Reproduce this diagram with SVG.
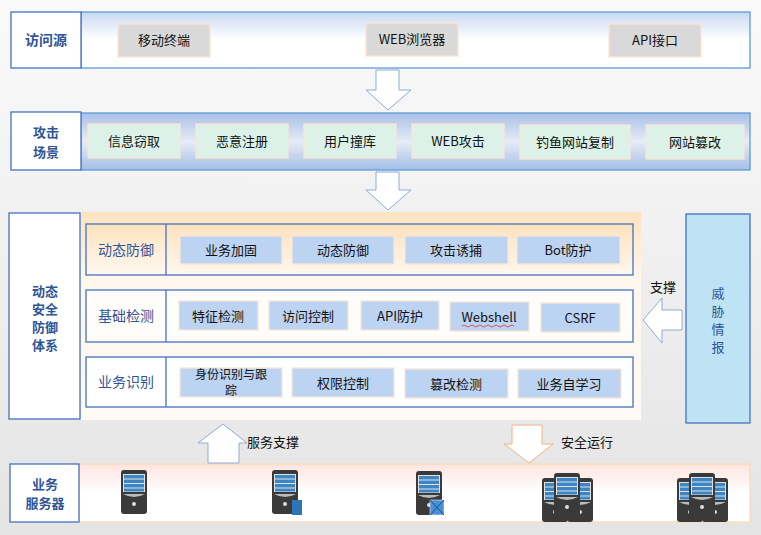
<svg xmlns="http://www.w3.org/2000/svg" width="761" height="535" viewBox="0 0 761 535">
<defs>
<linearGradient id="bg" x1="0" y1="0" x2="0" y2="1"><stop offset="0" stop-color="#fafafa"/><stop offset="1" stop-color="#e4e4e4"/></linearGradient>
<linearGradient id="g1" x1="0" y1="0" x2="0" y2="1"><stop offset="0" stop-color="#c9d9f2"/><stop offset="0.5" stop-color="#ffffff"/><stop offset="1" stop-color="#ffffff"/></linearGradient>
<linearGradient id="g2" x1="0" y1="0" x2="0" y2="1"><stop offset="0" stop-color="#a9c0e6"/><stop offset="0.5" stop-color="#e6ecf7"/><stop offset="1" stop-color="#a4bfe6"/></linearGradient>
<linearGradient id="gp" x1="0" y1="0" x2="0" y2="1"><stop offset="0" stop-color="#fde3c0"/><stop offset="0.3" stop-color="#fff6ec"/><stop offset="1" stop-color="#fffaf4"/></linearGradient>
<linearGradient id="gd" x1="0" y1="0" x2="0" y2="1"><stop offset="0" stop-color="#fde2bd"/><stop offset="1" stop-color="#fff8f0"/></linearGradient>
<linearGradient id="gs" x1="0" y1="0" x2="0" y2="1"><stop offset="0" stop-color="#fde4e0"/><stop offset="0.5" stop-color="#ffffff"/><stop offset="1" stop-color="#ffffff"/></linearGradient>
<g id="srv">
<rect x="-13" y="0" width="26" height="44" rx="3" fill="#3a3a3a"/>
<rect x="-11" y="4" width="22" height="18" fill="#e0e0e0"/>
<rect x="-10" y="5" width="20" height="3.5" fill="#3d86c6"/>
<rect x="-10" y="9.5" width="20" height="3.5" fill="#3d86c6"/>
<rect x="-10" y="14" width="20" height="3.5" fill="#3d86c6"/>
<rect x="-10" y="18.5" width="20" height="3" fill="#3d86c6"/>
<path d="M-11 24 Q0 30 11 24" fill="#bbb"/>
<circle cx="0" cy="34" r="2" fill="#ddd"/>
</g>
</defs>
<style>
.lbl{fill:#fff;stroke:#4472c4;stroke-width:1.3}
.lt{font-family:"Noto Sans CJK SC",sans-serif;font-weight:bold;font-size:13px;fill:#2f5597;text-anchor:middle}
.it{font-family:"Noto Sans CJK SC",sans-serif;font-size:13px;fill:#111;text-anchor:middle}
.sm{font-size:12px}
.gray{fill:#d9d9d9;stroke:#fbe5d6;stroke-width:1.3}
.mint{fill:#dcf2e8;stroke:#fbe5d6;stroke-width:1.3}
.blue{fill:#bdd3f2;stroke:#fbe5d6;stroke-width:1.3}
.row{stroke:#4472c4;stroke-width:1.3}
.rt{font-family:"Noto Sans CJK SC",sans-serif;font-size:14px;fill:#2f5597;text-anchor:middle}
.vt{font-family:"Noto Sans CJK SC",sans-serif;font-size:13px;fill:#2f5597;text-anchor:middle}
.arr{fill:#fff;stroke:#8eaadb;stroke-width:1}
</style>
<rect width="761" height="535" fill="url(#bg)"/>

<g id="access">
<rect x="81" y="12" width="669" height="56" fill="url(#g1)" stroke="#5b9bd5" stroke-width="1.3"/>
<rect class="lbl" x="11" y="12" width="70" height="56"/>
<text class="lt" x="46" y="45" style="font-size:14px">访问源</text>
<rect class="gray" x="118" y="24" width="92" height="33"/><text class="it" x="164" y="45">移动终端</text>
<rect class="gray" x="366" y="23" width="92" height="33"/><text class="it" x="412" y="44">WEB浏览器</text>
<rect class="gray" x="609" y="24" width="92" height="33"/><text class="it" x="655" y="45">API接口</text>
</g>

<g id="attack">
<rect x="81" y="113" width="669" height="57" fill="url(#g2)" stroke="#5b9bd5" stroke-width="1.3"/>
<rect class="lbl" x="11" y="112" width="70" height="58"/>
<text class="lt" x="46" y="137">攻击</text><text class="lt" x="46" y="157">场景</text>
<rect class="mint" x="88" y="124" width="92" height="34"/><text class="it" x="134" y="146">信息窃取</text>
<rect class="mint" x="196" y="124" width="92" height="34"/><text class="it" x="242" y="146">恶意注册</text>
<rect class="mint" x="304" y="124" width="92" height="34"/><text class="it" x="350" y="146">用户撞库</text>
<rect class="mint" x="412" y="124" width="92" height="34"/><text class="it" x="458" y="146">WEB攻击</text>
<rect class="mint" x="520" y="125" width="110" height="34"/><text class="it" x="575" y="147">钓鱼网站复制</text>
<rect class="mint" x="646" y="125" width="98" height="34"/><text class="it" x="695" y="147">网站篡改</text>
</g>

<g id="defense">
<rect class="lbl" x="9" y="213" width="71" height="206"/>
<text class="lt" x="45" y="296">动态</text><text class="lt" x="45" y="314">安全</text><text class="lt" x="45" y="332">防御</text><text class="lt" x="45" y="350">体系</text>
<rect x="81" y="212" width="560" height="208" fill="url(#gp)"/>
<rect class="row" x="86" y="224" width="547" height="51" fill="url(#gd)"/>
<line class="row" x1="166" y1="224" x2="166" y2="275"/>
<text class="rt" x="126" y="255">动态防御</text>
<rect class="blue" x="180" y="236" width="102" height="28"/><text class="it" x="231" y="255">业务加固</text>
<rect class="blue" x="292" y="236" width="102" height="28"/><text class="it" x="343" y="255">动态防御</text>
<rect class="blue" x="405" y="236" width="103" height="28"/><text class="it" x="456" y="255">攻击诱捕</text>
<rect class="blue" x="517" y="236" width="103" height="28"/><text class="it" x="568" y="255">Bot防护</text>

<rect class="row" x="86" y="290" width="547" height="52" fill="#fffdfa"/>
<line class="row" x1="166" y1="290" x2="166" y2="342"/>
<text class="rt" x="126" y="321">基础检测</text>
<rect class="blue" x="179" y="301" width="79" height="29"/><text class="it" x="218" y="321">特征检测</text>
<rect class="blue" x="269" y="301" width="79" height="29"/><text class="it" x="308" y="321">访问控制</text>
<rect class="blue" x="361" y="301" width="78" height="29"/><text class="it" x="400" y="321">API防护</text>
<rect class="blue" x="450" y="302" width="79" height="29"/><text class="it" x="489" y="322">Webshell</text>
<path d="M462 326 q2 -2 4 0 t4 0 t4 0 t4 0 t4 0 t4 0 t4 0 t4 0 t4 0 t4 0 t4 0 t4 0 t4 0" fill="none" stroke="#e03030" stroke-width="0.8"/>
<rect class="blue" x="541" y="303" width="79" height="29"/><text class="it" x="580" y="323">CSRF</text>

<rect class="row" x="86" y="357" width="547" height="50" fill="#fff"/>
<line class="row" x1="166" y1="357" x2="166" y2="407"/>
<text class="rt" x="126" y="387">业务识别</text>
<rect class="blue" x="180" y="368" width="102" height="29"/><text class="it sm" x="231" y="379">身份识别与跟</text><text class="it sm" x="231" y="395">踪</text>
<rect class="blue" x="292" y="368" width="102" height="29"/><text class="it" x="343" y="388">权限控制</text>
<rect class="blue" x="405" y="369" width="103" height="29"/><text class="it" x="456" y="389">篡改检测</text>
<rect class="blue" x="518" y="369" width="103" height="29"/><text class="it" x="569" y="389">业务自学习</text>
</g>

<g id="threat">
<rect x="686" y="214" width="64" height="209" fill="#bde3f5" stroke="#4472c4" stroke-width="1.3"/>
<text class="vt" x="718" y="298">威</text><text class="vt" x="718" y="316">胁</text><text class="vt" x="718" y="334">情</text><text class="vt" x="718" y="352">报</text>
</g>

<g id="servers">
<rect x="79" y="464" width="671" height="58" fill="url(#gs)" stroke="#fbdcb4" stroke-width="1.3"/>
<rect class="lbl" x="10" y="464" width="69" height="58"/>
<text class="lt" x="45" y="489">业务</text><text class="lt" x="45" y="508">服务器</text>
<use href="#srv" x="134" y="470"/>
<use href="#srv" x="285" y="470"/>
<rect x="292" y="500" width="10" height="15" fill="#2e75b6"/>
<use href="#srv" x="429" y="471"/>
<rect x="430" y="500" width="14" height="15" fill="#4a90d9" stroke="#fff" stroke-width="0.5"/>
<path d="M430 500 L444 515 M444 500 L430 515" stroke="#1f4e79" stroke-width="1"/>
<use href="#srv" x="555" y="478"/>
<use href="#srv" x="580" y="478"/>
<use href="#srv" x="567" y="473"/>
<use href="#srv" x="690" y="478"/>
<use href="#srv" x="715" y="478"/>
<use href="#srv" x="702" y="473"/>
</g>

<g id="connectors">
<path class="arr" d="M376 70 H399 V90 H411 L388 110 L366 90 H376 Z"/>
<path class="arr" d="M376 172 H399 V190 H411 L388 210 L366 190 H376 Z"/>
<path class="arr" d="M682 310 H662 V298 L643 320 L662 343 V330 H682 Z"/>
<text class="it" x="663" y="292">支撑</text>
<path class="arr" d="M208 463 V443 H198 L223 424 L247 443 H239 V463 Z"/>
<text class="it" x="273" y="447">服务支撑</text>
<path d="M512 425 H542 V444 H553 L529 463 L504 444 H512 Z" fill="#fff" stroke="#f4b183" stroke-width="1"/>
<text class="it" x="587" y="447">安全运行</text>
</g>
</svg>
